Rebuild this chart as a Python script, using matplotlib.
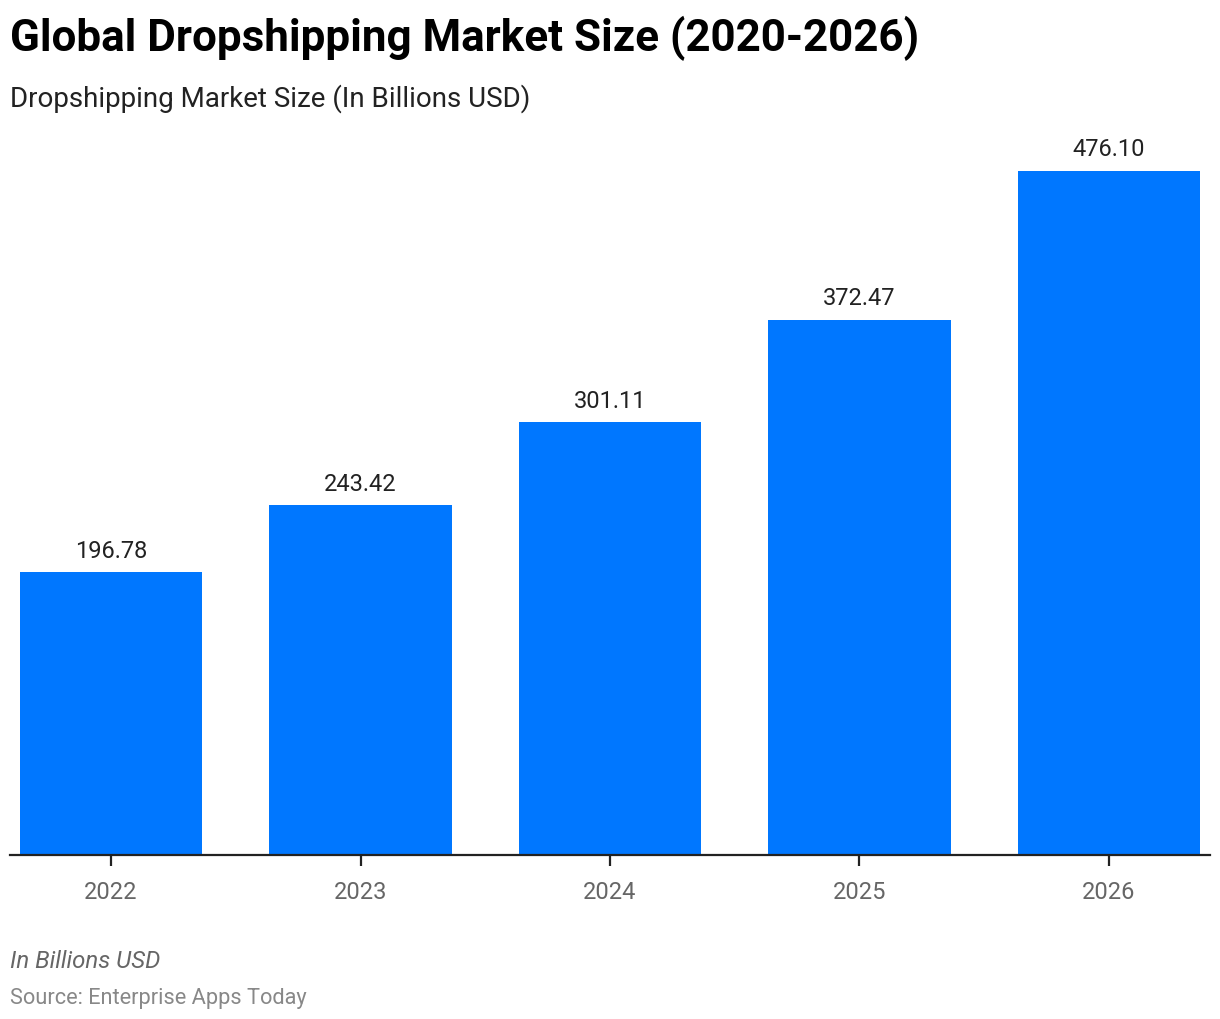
import matplotlib.pyplot as plt

plt.rcParams['font.family'] = ['Roboto', 'DejaVu Sans']

years = ['2022', '2023', '2024', '2025', '2026']
market_size = [196.78, 243.42, 301.11, 372.47, 476.10]

W, H = 1220, 1020
fig = plt.figure(figsize=(W / 100, H / 100), dpi=100)

# axes box in pixels: left 10, right 1210, bottom 856, top 140
ax = fig.add_axes([10 / W, (H - 856) / H, 1200 / W, (856 - 140) / H])

x = range(len(years))
bars = ax.bar(x, market_size, width=0.73, color='#0077FF', zorder=2)
for xi, v in zip(x, market_size):
    ax.text(xi, v + 7.5, f'{v:.2f}', ha='center', va='bottom', fontsize=17, color='#222222')

ax.set_xlim(-0.405, 4.405)
ax.set_ylim(0, 498.4)
ax.set_xticks(list(x))
ax.set_xticklabels(years, fontsize=17, color='#666666')
ax.set_yticks([])
for side in ['top', 'right', 'left']:
    ax.spines[side].set_visible(False)
ax.spines['bottom'].set_linewidth(1.6)
ax.spines['bottom'].set_color('#222222')
ax.tick_params(axis='x', length=8, width=1.6, color='#222222', pad=10)

fig.text(10 / W, 1 - 38 / H, 'Global Dropshipping Market Size (2020-2026)',
         fontsize=31.7, fontweight='bold', ha='left', va='center', color='#000000')
fig.text(10 / W, 1 - 99 / H, 'Dropshipping Market Size (In Billions USD)',
         fontsize=20, ha='left', va='center', color='#222222')
fig.text(10 / W, 1 - 962 / H, 'In Billions USD', fontsize=17.3, style='italic',
         ha='left', va='center', color='#666666')
fig.text(10 / W, 1 - 999 / H, 'Source: Enterprise Apps Today', fontsize=15.7,
         ha='left', va='center', color='#888888')

fig.savefig('out.png', dpi=100, facecolor='white')
